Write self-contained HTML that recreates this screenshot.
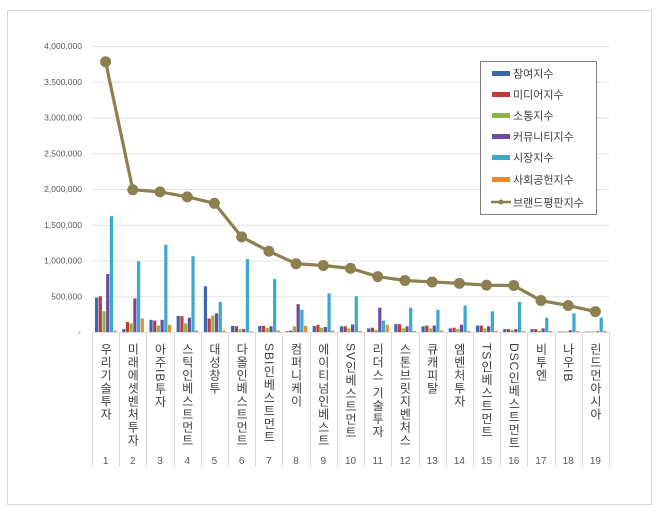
<!DOCTYPE html>
<html><head><meta charset="utf-8"><style>
html,body{margin:0;padding:0;background:#fff;}
svg{display:block;}
text{font-family:"Liberation Sans","Noto Sans CJK KR",sans-serif;}
</style></head><body>
<svg id="s" width="660" height="513" viewBox="0 0 660 513" xmlns="http://www.w3.org/2000/svg">
<rect x="7.5" y="10.5" width="644" height="494" fill="#fff" stroke="#d9d9d9"/>
</svg>
<script>
const s=document.getElementById('s');
const NS='http://www.w3.org/2000/svg';
function el(t,a,txt){const e=document.createElementNS(NS,t);for(const k in a)e.setAttribute(k,a[k]);if(txt!==undefined)e.textContent=txt;s.appendChild(e);return e;}
const L=92,R=609,Y0=332,YT=46,n=19,cw=(R-L)/n;
const y=v=>Y0-(Y0-YT)*v/4000000;
const ticks=['-','500,000','1,000,000','1,500,000','2,000,000','2,500,000','3,000,000','3,500,000','4,000,000'];
for(let i=0;i<=8;i++){const yy=y(i*500000);
 if(i>0)el('line',{x1:L,x2:R,y1:yy+0.5,y2:yy+0.5,stroke:'#e3e3e3','stroke-width':1});
 el('text',{x:i==0?81:82,y:yy+3,'font-size':8.5,'text-anchor':'end',fill:'#595959'},ticks[i]);}
el('line',{x1:L,x2:R,y1:Y0+0.5,y2:Y0+0.5,stroke:'#d9d9d9'});
for(let i=0;i<=n;i++){const xx=Math.round(L+i*cw)+0.5;el('line',{x1:xx,x2:xx,y1:Y0,y2:467,stroke:'#d9d9d9'});}
const cols=['#3a67ad','#c0393b','#8db548','#6d4c9c','#3ba9c9','#ee8a2d'];
const data=[[480,500,290,810,1620,20],[40,140,120,470,990,190],[170,160,90,170,1220,100],[225,220,120,200,1060,20],[640,190,230,260,420,20],[85,80,40,40,1020,10],[85,85,60,80,740,20],[10,20,80,390,310,85],[85,100,60,70,540,20],[80,80,50,105,500,15],[50,60,30,340,160,100],[110,110,50,80,340,15],[80,90,50,90,310,20],[50,60,40,100,370,15],[90,90,50,80,290,15],[40,40,30,40,420,15],[40,40,20,50,200,15],[6,6,6,25,260,15],[6,6,6,10,200,15]];
data.forEach((d,i)=>{const x0=L+i*cw+3;d.forEach((v,j)=>{const h=(Y0-YT)*v*1000/4000000;el('rect',{x:x0+j*3.7,y:Y0-h,width:3.2,height:h,fill:cols[j]});});});
const line=[3780,1990,1960,1890,1800,1330,1130,955,930,890,775,720,700,680,655,650,440,370,285];
const pts=line.map((v,i)=>[L+(i+0.5)*cw,y(v*1000)]);
el('polyline',{points:pts.map(p=>p.join(',')).join(' '),fill:'none',stroke:'#8c8050','stroke-width':3.2,'stroke-linejoin':'round'});
pts.forEach(p=>el('circle',{cx:p[0],cy:p[1],r:5.5,fill:'#8c8050'}));
const names=['우리기술투자','미래에셋벤처투자','아주IB투자','스틱인베스트먼트','대성창투','다올인베스트먼트','SBI인베스트먼트','컴퍼니케이','에이티넘인베스트','SV인베스트먼트','리더스 기술투자','스톤브릿지벤처스','큐캐피탈','엠벤처투자','TS인베스트먼트','DSC인베스트먼트','비투엔','나우IB','린드먼아시아'];
names.forEach((nm,i)=>{const cx=L+(i+0.5)*cw;
 el('text',{x:cx,y:343,'font-size':12,fill:'#404040','writing-mode':'vertical-rl','letter-spacing':'1',style:'writing-mode:vertical-rl'},nm);
 el('text',{x:cx,y:464,'font-size':10,'text-anchor':'middle',fill:'#595959'},String(i+1));});
el('rect',{x:480.5,y:61.5,width:116,height:153,fill:'#fff',stroke:'#7f7f7f'});
const lg=['참여지수','미디어지수','소통지수','커뮤니티지수','시장지수','사회공헌지수','브랜드평판지수'];
const ly=[73,94,115,136,157,179,202];
lg.forEach((t,i)=>{if(i<6)el('rect',{x:492,y:ly[i]-2,width:18,height:5,fill:cols[i]});
 else{el('line',{x1:491,x2:511,y1:ly[i],y2:ly[i],stroke:'#8c8050','stroke-width':2.5});el('circle',{cx:501,cy:ly[i],r:2.5,fill:'#8c8050'});}
 el('text',{x:513,y:ly[i]+4.5,'font-size':11,fill:'#404040'},t);});
</script>
</body></html>
